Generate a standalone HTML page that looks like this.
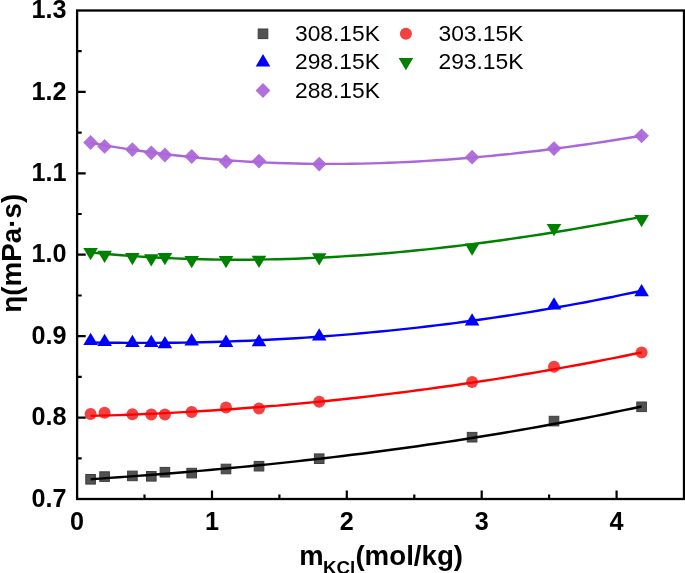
<!DOCTYPE html>
<html><head><meta charset="utf-8"><title>Viscosity</title>
<style>html,body{margin:0;padding:0;background:#fff}svg{display:block}text{font-family:"Liberation Sans",Arial,sans-serif}</style></head>
<body>
<svg width="685" height="573" viewBox="0 0 685 573">
<rect width="685" height="573" fill="#fff"/>
<g>
<rect x="85.8" y="474.5" width="9.6" height="9.6" fill="#525252" stroke="#3e3e3e" stroke-width="1"/>
<rect x="99.8" y="471.8" width="9.6" height="9.6" fill="#525252" stroke="#3e3e3e" stroke-width="1"/>
<rect x="127.6" y="471.1" width="9.6" height="9.6" fill="#525252" stroke="#3e3e3e" stroke-width="1"/>
<rect x="146.5" y="471.5" width="9.6" height="9.6" fill="#525252" stroke="#3e3e3e" stroke-width="1"/>
<rect x="160.1" y="467.4" width="9.6" height="9.6" fill="#525252" stroke="#3e3e3e" stroke-width="1"/>
<rect x="186.9" y="468.3" width="9.6" height="9.6" fill="#525252" stroke="#3e3e3e" stroke-width="1"/>
<rect x="221.2" y="464.2" width="9.6" height="9.6" fill="#525252" stroke="#3e3e3e" stroke-width="1"/>
<rect x="254.2" y="461.4" width="9.6" height="9.6" fill="#525252" stroke="#3e3e3e" stroke-width="1"/>
<rect x="314.4" y="453.9" width="9.6" height="9.6" fill="#525252" stroke="#3e3e3e" stroke-width="1"/>
<rect x="467.3" y="432.4" width="9.6" height="9.6" fill="#525252" stroke="#3e3e3e" stroke-width="1"/>
<rect x="549.2" y="416.3" width="9.6" height="9.6" fill="#525252" stroke="#3e3e3e" stroke-width="1"/>
<rect x="636.8" y="402.0" width="9.6" height="9.6" fill="#525252" stroke="#3e3e3e" stroke-width="1"/>
<path d="M90.6 479.2L99.9 478.6L109.3 477.9L118.6 477.3L128.0 476.6L137.3 475.9L146.6 475.2L156.0 474.5L165.3 473.7L174.7 473.0L184.0 472.2L193.3 471.4L202.7 470.6L212.0 469.8L221.3 468.9L230.7 468.0L240.0 467.1L249.4 466.2L258.7 465.3L268.0 464.4L277.4 463.4L286.7 462.4L296.1 461.4L305.4 460.3L314.7 459.3L324.1 458.2L333.4 457.1L342.8 456.0L352.1 454.8L361.4 453.7L370.8 452.5L380.1 451.3L389.4 450.0L398.8 448.8L408.1 447.5L417.5 446.2L426.8 444.8L436.1 443.5L445.5 442.1L454.8 440.7L464.2 439.2L473.5 437.7L482.8 436.2L492.2 434.7L501.5 433.2L510.9 431.6L520.2 430.0L529.5 428.4L538.9 426.7L548.2 425.0L557.5 423.3L566.9 421.5L576.2 419.8L585.6 418.0L594.9 416.1L604.2 414.2L613.6 412.3L622.9 410.4L632.3 408.5L641.6 406.5" fill="none" stroke="#000000" stroke-width="2.4" stroke-linejoin="round"/>
</g>
<g>
<circle cx="90.6" cy="414.0" r="6.0" fill="#f34142"/>
<circle cx="104.6" cy="412.8" r="6.0" fill="#f34142"/>
<circle cx="132.4" cy="414.2" r="6.0" fill="#f34142"/>
<circle cx="151.3" cy="414.5" r="6.0" fill="#f34142"/>
<circle cx="164.9" cy="414.5" r="6.0" fill="#f34142"/>
<circle cx="191.7" cy="412.1" r="6.0" fill="#f34142"/>
<circle cx="226.0" cy="407.6" r="6.0" fill="#f34142"/>
<circle cx="259.0" cy="408.5" r="6.0" fill="#f34142"/>
<circle cx="319.2" cy="401.7" r="6.0" fill="#f34142"/>
<circle cx="472.1" cy="381.9" r="6.0" fill="#f34142"/>
<circle cx="554.0" cy="366.8" r="6.0" fill="#f34142"/>
<circle cx="641.6" cy="352.5" r="6.0" fill="#f34142"/>
<path d="M90.6 415.9L99.9 415.6L109.3 415.4L118.6 415.1L128.0 414.7L137.3 414.4L146.6 414.0L156.0 413.6L165.3 413.1L174.7 412.6L184.0 412.1L193.3 411.6L202.7 411.0L212.0 410.5L221.3 409.8L230.7 409.2L240.0 408.5L249.4 407.8L258.7 407.1L268.0 406.3L277.4 405.6L286.7 404.7L296.1 403.9L305.4 403.0L314.7 402.1L324.1 401.2L333.4 400.2L342.8 399.3L352.1 398.2L361.4 397.2L370.8 396.1L380.1 395.0L389.4 393.9L398.8 392.7L408.1 391.6L417.5 390.3L426.8 389.1L436.1 387.8L445.5 386.5L454.8 385.2L464.2 383.8L473.5 382.4L482.8 381.0L492.2 379.6L501.5 378.1L510.9 376.6L520.2 375.0L529.5 373.5L538.9 371.9L548.2 370.3L557.5 368.6L566.9 366.9L576.2 365.2L585.6 363.5L594.9 361.7L604.2 359.9L613.6 358.1L622.9 356.2L632.3 354.3L641.6 352.4" fill="none" stroke="#ff0000" stroke-width="2.4" stroke-linejoin="round"/>
</g>
<g>
<path d="M90.6 332.8L97.9 345.1L83.3 345.1Z" fill="#0000ff"/>
<path d="M104.6 333.8L111.9 346.1L97.3 346.1Z" fill="#0000ff"/>
<path d="M132.4 334.8L139.7 347.1L125.1 347.1Z" fill="#0000ff"/>
<path d="M151.3 334.8L158.6 347.1L144.0 347.1Z" fill="#0000ff"/>
<path d="M164.9 336.0L172.2 348.3L157.6 348.3Z" fill="#0000ff"/>
<path d="M191.7 333.3L199.0 345.6L184.4 345.6Z" fill="#0000ff"/>
<path d="M226.0 334.6L233.3 346.9L218.7 346.9Z" fill="#0000ff"/>
<path d="M259.0 333.9L266.3 346.2L251.7 346.2Z" fill="#0000ff"/>
<path d="M319.2 328.3L326.5 340.6L311.9 340.6Z" fill="#0000ff"/>
<path d="M472.1 313.3L479.4 325.6L464.8 325.6Z" fill="#0000ff"/>
<path d="M554.0 297.2L561.3 309.5L546.7 309.5Z" fill="#0000ff"/>
<path d="M641.6 284.0L648.9 296.3L634.3 296.3Z" fill="#0000ff"/>
<path d="M90.6 342.4L99.9 342.6L109.3 342.7L118.6 342.8L128.0 342.9L137.3 342.9L146.6 342.9L156.0 342.9L165.3 342.8L174.7 342.7L184.0 342.6L193.3 342.4L202.7 342.2L212.0 342.0L221.3 341.7L230.7 341.4L240.0 341.0L249.4 340.7L258.7 340.2L268.0 339.8L277.4 339.3L286.7 338.8L296.1 338.2L305.4 337.6L314.7 337.0L324.1 336.3L333.4 335.6L342.8 334.9L352.1 334.1L361.4 333.3L370.8 332.4L380.1 331.5L389.4 330.6L398.8 329.6L408.1 328.6L417.5 327.6L426.8 326.5L436.1 325.4L445.5 324.2L454.8 323.1L464.2 321.8L473.5 320.5L482.8 319.2L492.2 317.9L501.5 316.5L510.9 315.1L520.2 313.6L529.5 312.1L538.9 310.5L548.2 308.9L557.5 307.3L566.9 305.6L576.2 303.9L585.6 302.2L594.9 300.4L604.2 298.5L613.6 296.7L622.9 294.7L632.3 292.8L641.6 290.8" fill="none" stroke="#0000ff" stroke-width="2.4" stroke-linejoin="round"/>
</g>
<g>
<path d="M90.6 260.3L97.9 248.1L83.3 248.1Z" fill="#008000"/>
<path d="M104.6 263.0L111.9 250.8L97.3 250.8Z" fill="#008000"/>
<path d="M132.4 265.2L139.7 253.0L125.1 253.0Z" fill="#008000"/>
<path d="M151.3 266.5L158.6 254.3L144.0 254.3Z" fill="#008000"/>
<path d="M164.9 265.2L172.2 253.0L157.6 253.0Z" fill="#008000"/>
<path d="M191.7 268.2L199.0 256.0L184.4 256.0Z" fill="#008000"/>
<path d="M226.0 268.3L233.3 256.1L218.7 256.1Z" fill="#008000"/>
<path d="M259.0 268.0L266.3 255.8L251.7 255.8Z" fill="#008000"/>
<path d="M319.2 265.4L326.5 253.2L311.9 253.2Z" fill="#008000"/>
<path d="M472.1 255.8L479.4 243.6L464.8 243.6Z" fill="#008000"/>
<path d="M554.0 236.2L561.3 224.0L546.7 224.0Z" fill="#008000"/>
<path d="M641.6 227.2L648.9 215.0L634.3 215.0Z" fill="#008000"/>
<path d="M90.6 252.5L99.9 253.4L109.3 254.3L118.6 255.0L128.0 255.7L137.3 256.4L146.6 257.0L156.0 257.5L165.3 258.0L174.7 258.4L184.0 258.8L193.3 259.1L202.7 259.3L212.0 259.5L221.3 259.6L230.7 259.7L240.0 259.7L249.4 259.7L258.7 259.6L268.0 259.4L277.4 259.2L286.7 259.0L296.1 258.7L305.4 258.3L314.7 257.9L324.1 257.5L333.4 257.0L342.8 256.4L352.1 255.8L361.4 255.2L370.8 254.5L380.1 253.7L389.4 253.0L398.8 252.1L408.1 251.2L417.5 250.3L426.8 249.4L436.1 248.4L445.5 247.3L454.8 246.2L464.2 245.1L473.5 243.9L482.8 242.7L492.2 241.5L501.5 240.2L510.9 238.9L520.2 237.5L529.5 236.1L538.9 234.7L548.2 233.2L557.5 231.7L566.9 230.2L576.2 228.6L585.6 227.0L594.9 225.4L604.2 223.7L613.6 222.0L622.9 220.3L632.3 218.6L641.6 216.8" fill="none" stroke="#008000" stroke-width="2.4" stroke-linejoin="round"/>
</g>
<g>
<path d="M90.6 135.1L98.0 142.5L90.6 149.9L83.2 142.5Z" fill="#b070dc"/>
<path d="M104.6 139.0L112.0 146.4L104.6 153.8L97.2 146.4Z" fill="#b070dc"/>
<path d="M132.4 142.2L139.8 149.6L132.4 157.0L125.0 149.6Z" fill="#b070dc"/>
<path d="M151.3 145.4L158.7 152.8L151.3 160.2L143.9 152.8Z" fill="#b070dc"/>
<path d="M164.9 147.6L172.3 155.0L164.9 162.4L157.5 155.0Z" fill="#b070dc"/>
<path d="M191.7 149.1L199.1 156.5L191.7 163.9L184.3 156.5Z" fill="#b070dc"/>
<path d="M226.0 154.2L233.4 161.6L226.0 169.0L218.6 161.6Z" fill="#b070dc"/>
<path d="M259.0 153.7L266.4 161.1L259.0 168.5L251.6 161.1Z" fill="#b070dc"/>
<path d="M319.2 156.7L326.6 164.1L319.2 171.5L311.8 164.1Z" fill="#b070dc"/>
<path d="M472.1 149.8L479.5 157.2L472.1 164.6L464.7 157.2Z" fill="#b070dc"/>
<path d="M554.0 141.2L561.4 148.6L554.0 156.0L546.6 148.6Z" fill="#b070dc"/>
<path d="M641.6 128.4L649.0 135.8L641.6 143.2L634.2 135.8Z" fill="#b070dc"/>
<path d="M90.6 142.8L99.9 144.5L109.3 146.1L118.6 147.6L128.0 149.1L137.3 150.5L146.6 151.8L156.0 153.0L165.3 154.2L174.7 155.3L184.0 156.3L193.3 157.3L202.7 158.2L212.0 159.0L221.3 159.8L230.7 160.5L240.0 161.1L249.4 161.7L258.7 162.2L268.0 162.6L277.4 163.0L286.7 163.3L296.1 163.5L305.4 163.7L314.7 163.9L324.1 163.9L333.4 163.9L342.8 163.9L352.1 163.8L361.4 163.6L370.8 163.4L380.1 163.1L389.4 162.8L398.8 162.4L408.1 162.0L417.5 161.5L426.8 160.9L436.1 160.3L445.5 159.7L454.8 159.0L464.2 158.3L473.5 157.5L482.8 156.6L492.2 155.8L501.5 154.8L510.9 153.9L520.2 152.8L529.5 151.8L538.9 150.7L548.2 149.5L557.5 148.3L566.9 147.1L576.2 145.8L585.6 144.5L594.9 143.1L604.2 141.7L613.6 140.3L622.9 138.8L632.3 137.3L641.6 135.8" fill="none" stroke="#ab67d9" stroke-width="2.4" stroke-linejoin="round"/>
</g>
<rect x="77.1" y="10.5" width="606.9" height="488.5" fill="none" stroke="#000" stroke-width="2.3"/>
<path d="M144.5 499.0v-4.6M212.0 499.0v-8.6M279.4 499.0v-4.6M346.8 499.0v-8.6M414.3 499.0v-4.6M481.7 499.0v-8.6M549.1 499.0v-4.6M616.6 499.0v-8.6M77.1 458.3h4.6M77.1 417.6h8.6M77.1 376.9h4.6M77.1 336.2h8.6M77.1 295.5h4.6M77.1 254.7h8.6M77.1 214.0h4.6M77.1 173.3h8.6M77.1 132.6h4.6M77.1 91.9h8.6M77.1 51.2h4.6" stroke="#000" stroke-width="2.2" fill="none"/>
<g font-size="25.2" font-weight="bold" fill="#000">
<text x="66.6" y="506.7" text-anchor="end">0.7</text>
<text x="66.6" y="425.3" text-anchor="end">0.8</text>
<text x="66.6" y="343.9" text-anchor="end">0.9</text>
<text x="66.6" y="262.4" text-anchor="end">1.0</text>
<text x="66.6" y="181.0" text-anchor="end">1.1</text>
<text x="66.6" y="99.6" text-anchor="end">1.2</text>
<text x="66.6" y="18.2" text-anchor="end">1.3</text>
<text x="77.1" y="529.7" text-anchor="middle">0</text>
<text x="212.0" y="529.7" text-anchor="middle">1</text>
<text x="346.8" y="529.7" text-anchor="middle">2</text>
<text x="481.7" y="529.7" text-anchor="middle">3</text>
<text x="616.6" y="529.7" text-anchor="middle">4</text>
</g>
<text x="299.3" y="565" font-size="27.4" font-weight="bold" fill="#000">m<tspan x="322.9" font-size="18.8" dy="9">KCl</tspan><tspan x="355.4" font-size="27.7" dy="-9">(mol/kg)</tspan></text>
<text transform="translate(20.8 253.3) rotate(-90)" text-anchor="middle" font-size="27.8" font-weight="bold" fill="#000">η(mPa·s)</text>
<g font-size="22.8" fill="#000">
<rect x="258.2" y="29.0" width="9.6" height="9.6" fill="#525252" stroke="#3e3e3e" stroke-width="1"/>
<text x="295.0" y="40.9">308.15K</text>
<path d="M263.0 54.1L270.3 66.5L255.7 66.5Z" fill="#0000ff"/>
<text x="295.0" y="69.2">298.15K</text>
<path d="M263.0 83.1L270.4 90.5L263.0 97.9L255.6 90.5Z" fill="#b070dc"/>
<text x="295.0" y="97.6">288.15K</text>
<circle cx="405.9" cy="33.8" r="6.0" fill="#f34142"/>
<text x="438.5" y="40.9">303.15K</text>
<path d="M405.9 70.3L413.2 58.1L398.6 58.1Z" fill="#008000"/>
<text x="438.5" y="69.2">293.15K</text>
</g>
</svg>
</body></html>
